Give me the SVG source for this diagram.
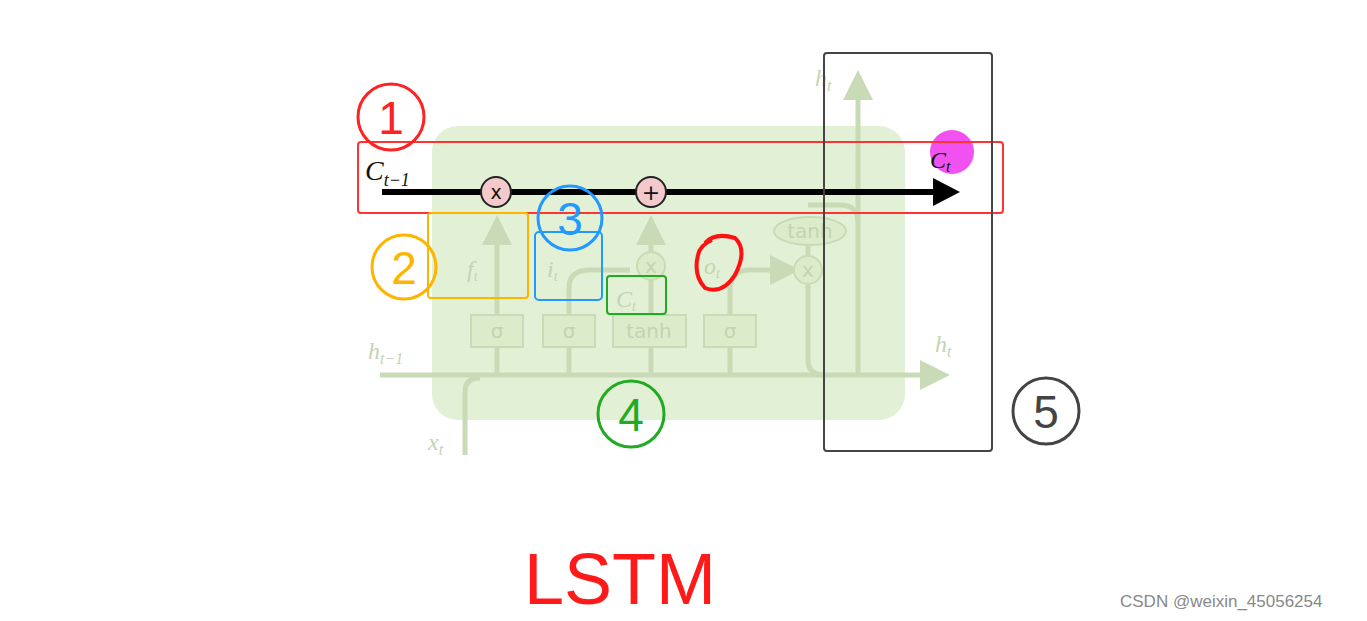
<svg xmlns="http://www.w3.org/2000/svg" width="1367" height="621" viewBox="0 0 1367 621">
<style>
.f{stroke:#c9dbb6;fill:none;stroke-width:5}
.fb{fill:#dcebc9;stroke:#c9dbb6;stroke-width:2}
.ft{fill:#c4d4b2;font-family:"DejaVu Sans",sans-serif;font-size:20px}
.fm{fill:#c4d4b2;font-family:"Liberation Serif",serif;font-style:italic;font-size:24px}
.m{font-family:"Liberation Serif",serif;font-style:italic;fill:#111}
.num{font-family:"Liberation Sans",sans-serif;font-size:46px;text-anchor:middle}
</style>
<defs>
<marker id="fa" markerWidth="6" markerHeight="6" refX="3" refY="3" orient="auto" markerUnits="strokeWidth"><path d="M0,0 L6,3 L0,6Z" fill="#c9dbb6"/></marker>
</defs>
<rect width="1367" height="621" fill="#ffffff"/>
<g id="cell">
<rect x="432" y="126" width="473" height="294" rx="26" fill="#e2f0d5"/>
</g>
<g id="connectors">
<path class="f" d="M380,375 H935" marker-end="url(#fa)"/>
<path class="f" d="M465,455 V392 Q465,378 480,378"/>
<path class="f" d="M497,375 V230" marker-end="url(#fa)"/>
<path class="f" d="M569,375 V288 Q569,270 590,270 H630"/>
<path class="f" d="M651,375 V230" marker-end="url(#fa)"/>
<path class="f" d="M730,375 V290 Q730,270 750,270 H785" marker-end="url(#fa)"/>
<path class="f" d="M808,255 V220 M808,285 V360 Q808,375 825,375"/>
<path class="f" d="M858,375 V85" marker-end="url(#fa)"/>
<path class="f" d="M808,205 H840 Q858,205 858,222"/>
</g>
<g id="gates">
<rect class="fb" x="471" y="315" width="52" height="32"/><text class="ft" x="497" y="338" text-anchor="middle">σ</text>
<rect class="fb" x="543" y="315" width="52" height="32"/><text class="ft" x="569" y="338" text-anchor="middle">σ</text>
<rect class="fb" x="613" y="315" width="73" height="32"/><text class="ft" x="649" y="338" text-anchor="middle">tanh</text>
<rect class="fb" x="704" y="315" width="52" height="32"/><text class="ft" x="730" y="338" text-anchor="middle">σ</text>
<circle class="fb" cx="651" cy="266" r="14"/><text class="ft" x="651" y="273" text-anchor="middle">x</text>
<circle class="fb" cx="808" cy="270" r="14"/><text class="ft" x="808" y="277" text-anchor="middle">x</text>
<ellipse class="fb" cx="810" cy="231" rx="36" ry="14"/><text class="ft" x="810" y="238" text-anchor="middle">tanh</text>
<text class="fm" x="467" y="277">f<tspan font-size="14" dy="4">t</tspan></text>
<text class="fm" x="547" y="277">i<tspan font-size="14" dy="4">t</tspan></text>
<text class="fm" x="704" y="274">o<tspan font-size="14" dy="4">t</tspan></text>
<text class="fm" x="616" y="307">C<tspan font-size="14" dy="4">t</tspan></text>
<text class="fm" x="368" y="359">h<tspan font-size="16" dy="5">t−1</tspan></text>
<text class="fm" x="428" y="450">x<tspan font-size="16" dy="5">t</tspan></text>
<text class="fm" x="815" y="86">h<tspan font-size="16" dy="5">t</tspan></text>
<text class="fm" x="935" y="352">h<tspan font-size="16" dy="5">t</tspan></text>
</g>
<g id="cellstate">
<path d="M382,192 H935" stroke="#000" stroke-width="6"/>
<path d="M933,178 L960,192 L933,206Z" fill="#000"/>
<circle cx="496" cy="192" r="15" fill="#f3c9cc" stroke="#222" stroke-width="2"/>
<text x="496" y="199" text-anchor="middle" font-family="DejaVu Sans,sans-serif" font-size="19" fill="#111">x</text>
<circle cx="651" cy="192" r="15" fill="#f3c9cc" stroke="#222" stroke-width="2"/>
<text x="651" y="200" text-anchor="middle" font-family="DejaVu Sans,sans-serif" font-size="22" fill="#111">+</text>
<text class="m" x="365" y="180" font-size="28">C<tspan font-size="18" dy="6">t−1</tspan></text>
<circle cx="952" cy="152" r="22" fill="#ee33ee" opacity="0.85"/>
<text class="m" x="930" y="168" font-size="24">C<tspan font-size="16" dy="4">t</tspan></text>
</g>
<g id="annotations" fill="none" stroke-width="2">
<rect x="358" y="142" width="645" height="71" rx="3" stroke="#ff3333"/>
<rect x="428" y="213" width="100" height="85" rx="3" stroke="#ffb400"/>
<rect x="535" y="232" width="67" height="68" rx="4" stroke="#2299ff"/>
<rect x="607" y="276" width="59" height="38" rx="3" stroke="#22aa22"/>
<rect x="824" y="53" width="168" height="398" rx="3" stroke="#444"/>
<path d="M705,243 Q715,232 735,238 Q748,250 735,275 Q722,295 705,288 Q693,275 698,255 Q700,245 712,240" stroke="#ff1111" stroke-width="4"/>
<circle cx="391" cy="117" r="33" stroke="#ff2222" stroke-width="3"/>
<circle cx="404" cy="267" r="32" stroke="#ffb400" stroke-width="3"/>
<circle cx="570" cy="218" r="32" stroke="#2299ff" stroke-width="3"/>
<circle cx="631" cy="414" r="33" stroke="#22aa22" stroke-width="3"/>
<circle cx="1046" cy="411" r="33" stroke="#444" stroke-width="3"/>
</g>
<g id="labels">
<text class="num" x="391" y="134" fill="#ff2222">1</text>
<text class="num" x="404" y="284" fill="#ffb400">2</text>
<text class="num" x="570" y="235" fill="#2299ff">3</text>
<text class="num" x="631" y="431" fill="#22aa22">4</text>
<text class="num" x="1046" y="428" fill="#444">5</text>
<text x="620" y="604" text-anchor="middle" font-family="Liberation Sans,sans-serif" font-size="72" fill="#ff1a1a">LSTM</text>
<text x="1120" y="607" font-family="Liberation Sans,sans-serif" font-size="17" fill="#888">CSDN @weixin_45056254</text>
</g>
</svg>
